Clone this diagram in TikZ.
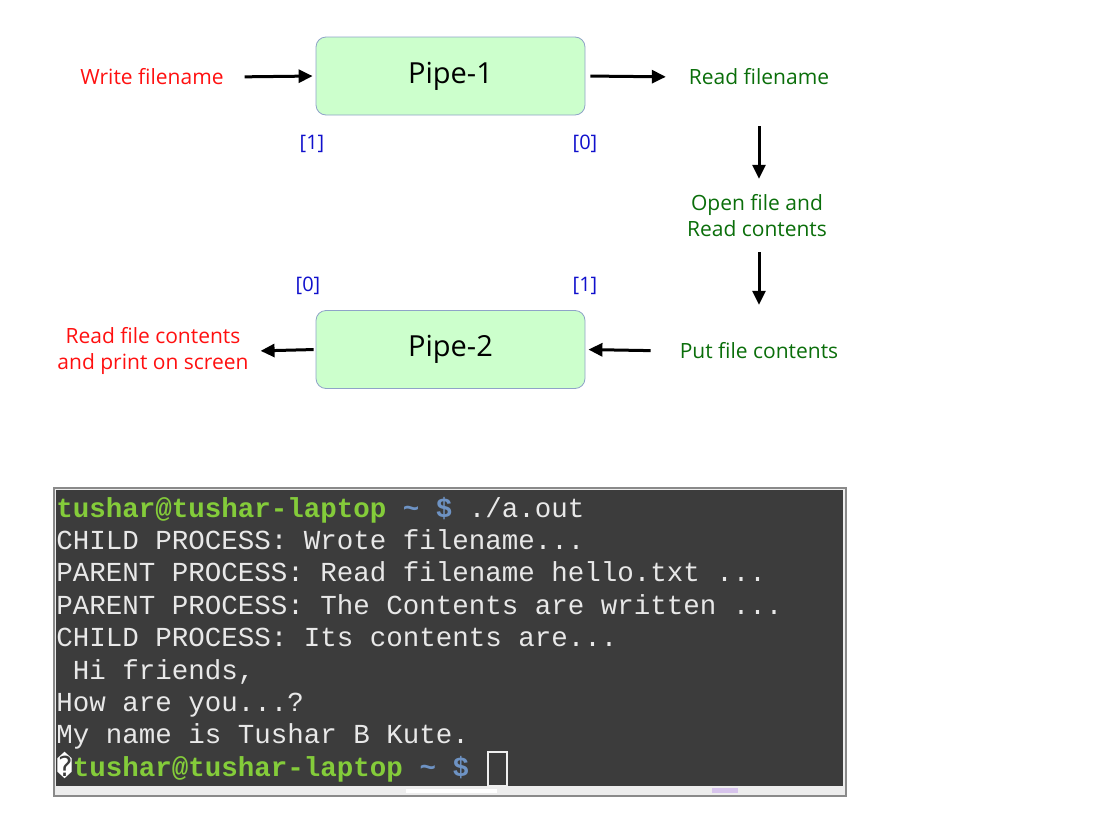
\documentclass[tikz,border=0pt]{standalone}
\usepackage{fontspec}
\setmainfont{Open Sans}
\newfontfamily\termfont{Liberation Mono}
\newfontfamily\replfont{DejaVu Sans Mono}
\usetikzlibrary{arrows.meta}
\definecolor{PipeFill}{HTML}{CCFFCC}
\definecolor{PipeLine}{HTML}{8FA3C8}
\definecolor{WriteRed}{HTML}{FF1010}
\definecolor{ReadGreen}{HTML}{0A6E0A}
\definecolor{FdBlue}{HTML}{1010CC}
\definecolor{TermBg}{HTML}{3C3C3C}
\definecolor{TermText}{HTML}{E8E8E8}
\definecolor{TermUser}{HTML}{84CC3A}
\definecolor{TermSign}{HTML}{6E93C4}
\definecolor{TermFrame}{HTML}{8A8A8A}
\definecolor{TermStrip}{HTML}{EDEDED}
\definecolor{TermTab}{HTML}{D7C4EC}
\newcommand{\prompt}{\textcolor{TermUser}{\bfseries tushar@tushar-laptop} \textcolor{TermSign}{\bfseries\textasciitilde{} \$}}

\begin{document}
\begin{tikzpicture}[
  x=0.5pt,y=-0.5pt,
  pipe/.style={draw=PipeLine, fill=PipeFill, rounded corners=5pt, minimum width=134.5pt, minimum height=39pt, font=\fontsize{14.5}{16}\selectfont},
  wlabel/.style={text=WriteRed, align=center, font=\fontsize{10.5}{13}\selectfont},
  rlabel/.style={text=ReadGreen, align=center, font=\fontsize{10.5}{13}\selectfont},
  fd/.style={text=FdBlue, font=\fontsize{10}{12}\selectfont},
  arr/.style={-{Triangle[length=7pt,width=6.5pt]}, line width=1.5pt, draw=black},
  term/.style={anchor=base west, inner sep=0pt, text=TermText, font=\termfont\fontsize{13.75}{16}\selectfont}
]
  \useasboundingbox (0,0) rectangle (1114,814);

  % pipes
  \node[pipe] (pipe1) at (450.5,76) {Pipe-1};
  \node[pipe] (pipe2) at (450.5,349.5) {Pipe-2};

  \node[wlabel] (wf) at (152,77) {Write filename};
  \node[rlabel] (rf) at (759,77) {Read filename};
  \node[rlabel] (ofr) at (757,216) {Open file and\\Read contents};
  \node[rlabel] (pfc) at (759,351) {Put file contents};
  \node[wlabel] (rfc) at (153,351) {Read file contents\\and print on screen};

  \node[fd] (w1) at (312,144) {[1]};
  \node[fd] (r1) at (585,144) {[0]};
  \node[fd] (r2) at (308,286) {[0]};
  \node[fd] (w2) at (585,286) {[1]};

  \draw[arr, shorten <=7pt, shorten >=1.5pt] (wf.east) -- (pipe1.west);
  \draw[arr, shorten <=2.5pt, shorten >=8pt] (pipe1.east) -- (rf.west);
  \draw[arr, shorten <=17pt, shorten >=4.5pt] (rf.south) -- (rf.south |- ofr.north);
  \draw[arr, shorten <=4pt, shorten >=15.5pt] (rf.south |- ofr.south) -- (rf.south |- pfc.north);
  \draw[arr, shorten <=11pt, shorten >=1.5pt] (pfc.west) -- (pipe2.east);
  \draw[arr, shorten <=1pt, shorten >=2.5pt] (pipe2.west) -- (rfc.east);

  % terminal
  \draw[TermFrame, line width=1pt, fill=TermStrip] (53.5,487.5) rectangle (845.5,795.5);
  \fill[TermBg] (56,490) rectangle (843,786);
  \fill[white] (406,789) rectangle (497,793);
  \fill[TermTab] (712,788) rectangle (738,793);

  \node[term] (t1) at (56,517) {\prompt{} ./a.out};
  \node[term] (t2) at (56,549.4) {CHILD PROCESS: Wrote filename...};
  \node[term] (t3) at (56,581.8) {PARENT PROCESS: Read filename hello.txt ...};
  \node[term] (t4) at (56,614.2) {PARENT PROCESS: The Contents are written ...};
  \node[term] (t5) at (56,646.6) {CHILD PROCESS: Its contents are...};
  \node[term] (t6) at (56,679) {\ Hi friends,};
  \node[term] (t7) at (56,711.4) {How are you...?};
  \node[term] (t8) at (56,743.8) {My name is Tushar B Kute.};
  \node[term] (t9) at (56,776.2) {{\replfont\textcolor{white}{�}}\prompt};
  \draw[TermText!70, line width=0.7pt] (488,752) rectangle (507,786);
\end{tikzpicture}
\end{document}
